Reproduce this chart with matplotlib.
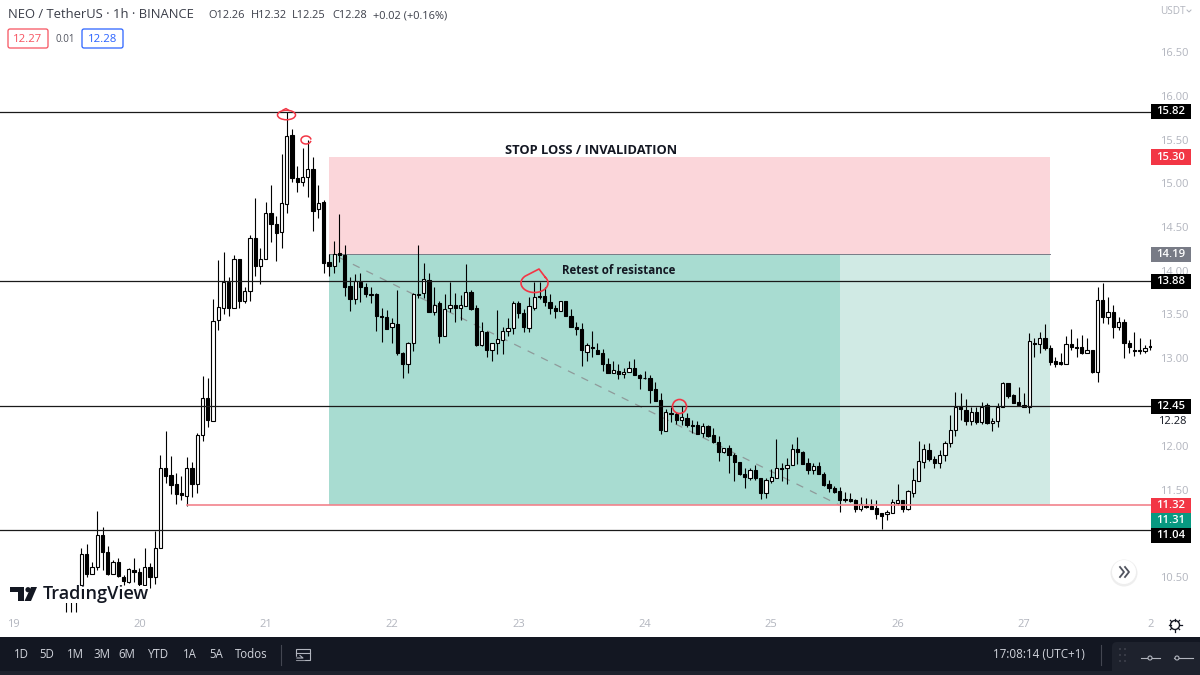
import numpy as np
import matplotlib
matplotlib.use("Agg")
import matplotlib.pyplot as plt
from matplotlib.patches import Rectangle, Circle, Ellipse, FancyBboxPatch, Polygon

plt.rcParams['font.family'] = ['Open Sans', 'DejaVu Sans']

# -----------------------------
# DATOS
# -----------------------------
first_hour = 10

highs = [10.35, 10.36, 10.38,
    10.83, 10.88, 10.67, 11.25, 11.07, 10.86, 10.70, 10.72, 10.52, 10.60,
    10.72, 10.60, 10.83, 10.66, 11.03, 11.90, 12.17, 11.88, 11.69, 11.66,
    11.87, 11.81, 12.15, 12.80, 12.78, 13.68, 14.12, 14.21, 13.93, 14.18,
    14.13, 13.82, 14.41, 14.83, 14.26, 14.79, 14.98, 14.63, 15.34, 15.81,
    15.62, 15.20, 15.40, 15.49, 15.30, 14.98, 14.81, 14.19, 14.34, 14.65,
    14.29, 13.93, 13.96, 13.97, 13.86, 13.82, 13.75, 13.58, 13.55, 13.46,
    13.78, 13.07, 13.19, 13.75, 14.29, 14.09, 13.97, 13.82, 13.65, 13.73,
    13.87, 13.75, 13.72, 14.08, 13.78, 13.61, 13.42, 13.31, 13.18, 13.55,
    13.36, 13.46, 13.66, 13.65, 13.56, 13.70, 13.87, 13.87, 13.81, 13.74,
    13.61, 13.66, 13.66, 13.56, 13.41, 13.40, 13.17, 13.31, 13.18, 13.11,
    13.00, 12.97, 12.94, 12.89, 12.97, 12.99, 12.82, 12.86, 12.81, 12.73,
    12.60, 12.42, 12.44, 12.39, 12.46, 12.37, 12.29, 12.28, 12.26, 12.24,
    12.20, 12.11, 11.98, 12.01, 11.92, 11.81, 11.75, 11.75, 11.78, 11.63,
    11.63, 11.73, 12.08, 11.80, 11.86, 12.02, 12.10, 11.94, 11.86, 11.80,
    11.82, 11.70, 11.61, 11.54, 11.53, 11.47, 11.46, 11.39, 11.41, 11.40,
    11.39, 11.38, 11.23, 11.27, 11.39, 11.56, 11.38, 11.49, 11.75, 12.06,
    12.02, 12.03, 11.88, 11.95, 12.06, 12.35, 12.61, 12.60, 12.54, 12.44,
    12.44, 12.50, 12.49, 12.32, 12.49, 12.73, 12.72, 12.59, 12.67, 12.60,
    13.29, 13.23, 13.30, 13.39, 13.15, 13.01, 13.06, 13.25, 13.34, 13.23,
    13.27, 13.23, 13.10, 13.81, 13.86, 13.70, 13.61, 13.47, 13.45, 13.21,
    13.30, 13.23, 13.15, 13.22]

lows = [10.10, 10.10, 10.10,
    10.41, 10.50, 10.53, 10.58, 10.58, 10.52, 10.53, 10.50, 10.41, 10.43,
    10.44, 10.36, 10.35, 10.37, 10.42, 10.83, 11.57, 11.45, 11.34, 11.38,
    11.31, 11.41, 11.46, 12.05, 12.21, 12.28, 13.32, 13.51, 13.48, 13.58,
    13.57, 13.63, 13.66, 13.94, 13.85, 14.13, 14.33, 14.11, 14.26, 14.66,
    15.01, 14.90, 14.97, 14.84, 14.46, 14.60, 13.98, 13.94, 13.98, 14.10,
    13.71, 13.54, 13.62, 13.64, 13.70, 13.63, 13.31, 13.19, 13.33, 13.17,
    13.04, 12.77, 12.83, 13.08, 13.69, 13.69, 13.53, 13.49, 13.17, 13.26,
    13.53, 13.41, 13.44, 13.60, 13.55, 13.14, 13.14, 13.02, 12.97, 13.05,
    13.05, 13.25, 13.28, 13.46, 13.30, 13.30, 13.55, 13.68, 13.60, 13.51,
    13.46, 13.54, 13.48, 13.36, 13.27, 12.91, 12.97, 13.01, 13.05, 12.85,
    12.83, 12.83, 12.76, 12.78, 12.84, 12.81, 12.65, 12.76, 12.49, 12.51,
    12.13, 12.17, 12.27, 12.25, 12.24, 12.21, 12.15, 12.14, 12.10, 12.10,
    12.03, 11.83, 11.92, 11.69, 11.60, 11.67, 11.52, 11.61, 11.61, 11.39,
    11.40, 11.57, 11.63, 11.60, 11.56, 11.78, 11.79, 11.79, 11.68, 11.68,
    11.68, 11.54, 11.47, 11.46, 11.24, 11.36, 11.36, 11.24, 11.25, 11.29,
    11.28, 11.16, 11.05, 11.15, 11.23, 11.32, 11.24, 11.27, 11.41, 11.60,
    11.75, 11.83, 11.75, 11.75, 11.83, 11.99, 12.11, 12.29, 12.24, 12.24,
    12.25, 12.25, 12.25, 12.17, 12.21, 12.44, 12.55, 12.49, 12.45, 12.44,
    12.37, 13.01, 13.06, 13.09, 12.92, 12.90, 12.92, 12.93, 13.10, 13.01,
    13.05, 13.06, 12.83, 12.73, 13.40, 13.39, 13.23, 13.32, 13.00, 13.06,
    13.03, 13.05, 13.06, 13.10]

opens = [10.28, 10.30, 10.26,
    10.41, 10.76, 10.54, 10.61, 10.98, 10.79, 10.54, 10.67, 10.50, 10.44,
    10.58, 10.56, 10.41, 10.62, 10.50, 10.83, 11.75, 11.67, 11.56, 11.46,
    11.43, 11.75, 11.56, 12.12, 12.55, 12.28, 13.44, 13.57, 13.87, 13.58,
    14.13, 13.66, 13.77, 14.37, 14.05, 14.13, 14.66, 14.54, 14.44, 14.76,
    15.55, 15.06, 15.01, 15.07, 15.16, 14.71, 14.79, 14.10, 14.05, 14.20,
    14.18, 13.83, 13.68, 13.87, 13.81, 13.74, 13.73, 13.48, 13.47, 13.36,
    13.39, 13.06, 12.94, 13.17, 13.72, 13.75, 13.89, 13.53, 13.63, 13.26,
    13.57, 13.61, 13.58, 13.60, 13.76, 13.57, 13.15, 13.30, 13.09, 13.17,
    13.21, 13.31, 13.35, 13.63, 13.52, 13.35, 13.58, 13.71, 13.71, 13.64,
    13.57, 13.54, 13.65, 13.48, 13.36, 13.33, 13.07, 13.13, 13.10, 13.06,
    12.94, 12.83, 12.86, 12.82, 12.84, 12.89, 12.81, 12.78, 12.77, 12.65,
    12.52, 12.17, 12.37, 12.36, 12.29, 12.32, 12.24, 12.24, 12.15, 12.23,
    12.12, 12.04, 11.93, 11.97, 11.90, 11.81, 11.68, 11.63, 11.72, 11.63,
    11.46, 11.60, 11.63, 11.75, 11.75, 11.78, 11.96, 11.93, 11.80, 11.72,
    11.77, 11.68, 11.56, 11.52, 11.48, 11.39, 11.39, 11.38, 11.28, 11.31,
    11.31, 11.29, 11.23, 11.22, 11.23, 11.35, 11.38, 11.28, 11.46, 11.60,
    11.82, 11.95, 11.85, 11.80, 11.90, 12.03, 12.18, 12.44, 12.41, 12.28,
    12.39, 12.27, 12.47, 12.26, 12.28, 12.44, 12.72, 12.58, 12.50, 12.47,
    12.44, 13.17, 13.16, 13.23, 13.12, 12.97, 12.96, 12.94, 13.16, 13.13,
    13.13, 13.06, 13.10, 12.84, 13.67, 13.47, 13.53, 13.36, 13.41, 13.18,
    13.10, 13.08, 13.08, 13.13]

closes = [10.24, 10.24, 10.32,
    10.76, 10.53, 10.61, 10.98, 10.79, 10.54, 10.67, 10.51, 10.45, 10.59,
    10.56, 10.42, 10.61, 10.50, 10.83, 11.75, 11.66, 11.55, 11.45, 11.44,
    11.75, 11.56, 12.12, 12.55, 12.29, 13.42, 13.58, 13.87, 13.58, 14.13,
    13.66, 13.77, 14.37, 14.05, 14.14, 14.66, 14.53, 14.43, 14.77, 15.54,
    15.06, 15.01, 15.07, 15.16, 14.68, 14.77, 14.09, 14.06, 14.19, 14.18,
    13.82, 13.68, 13.88, 13.81, 13.73, 13.72, 13.48, 13.47, 13.33, 13.40,
    13.06, 12.94, 13.18, 13.73, 13.74, 13.90, 13.53, 13.61, 13.25, 13.56,
    13.61, 13.57, 13.61, 13.76, 13.56, 13.15, 13.31, 13.09, 13.17, 13.22,
    13.31, 13.35, 13.63, 13.52, 13.36, 13.60, 13.70, 13.70, 13.64, 13.57,
    13.54, 13.65, 13.48, 13.36, 13.33, 13.09, 13.15, 13.12, 13.05, 12.94,
    12.83, 12.87, 12.82, 12.84, 12.89, 12.81, 12.78, 12.77, 12.64, 12.51,
    12.18, 12.39, 12.36, 12.30, 12.33, 12.24, 12.23, 12.14, 12.23, 12.11,
    12.04, 11.93, 11.97, 11.90, 11.81, 11.68, 11.64, 11.72, 11.63, 11.46,
    11.61, 11.64, 11.75, 11.74, 11.78, 11.96, 11.93, 11.79, 11.72, 11.77,
    11.68, 11.55, 11.52, 11.47, 11.38, 11.38, 11.37, 11.28, 11.33, 11.30,
    11.28, 11.22, 11.20, 11.24, 11.36, 11.38, 11.28, 11.48, 11.61, 11.82,
    11.96, 11.85, 11.80, 11.90, 12.03, 12.18, 12.44, 12.42, 12.28, 12.39,
    12.27, 12.44, 12.26, 12.28, 12.44, 12.72, 12.57, 12.49, 12.47, 12.44,
    13.20, 13.16, 13.23, 13.12, 12.96, 12.94, 12.94, 13.16, 13.13, 13.12,
    13.06, 13.09, 12.84, 13.67, 13.47, 13.53, 13.36, 13.41, 13.18, 13.13,
    13.08, 13.09, 13.12, 13.14]

# 12.50 y 11.00 quedan tapados por las etiquetas de 12.45 y 11.04
price_ticks = [16.5, 16.0, 15.5, 15.0, 14.5, 14.0, 13.5, 13.0, 12.0, 11.5, 10.5]
day_ticks = [0, 24, 48, 72, 96, 120, 144, 168, 192, 216]
day_labels = ["19", "20", "21", "22", "23", "24", "25", "26", "27", "2"]

levels = [15.82, 13.88, 12.45, 11.04]
support = 11.32
support_start = 33

pos_start, pos_mid, pos_end = 60, 157, 197
stop_price, entry_price, target_price = 15.30, 14.19, 11.32
trend_hours = [62, 157]
trend_prices = [14.15, 11.32]

tag_prices = [15.82, 15.30, 14.19, 13.88, 12.45, 11.32, 11.31, 11.04]
tag_colors = ["#000000", "#f23645", "#787b86", "#000000", "#000000", "#f23645", "#089981", "#000000"]
tag_shift = [0, 0, 0, 0, 0, 0, 14, 6]
last_price = 12.28

ranges = ["1D", "5D", "1M", "3M", "6M", "YTD", "1A", "5A", "Todos"]
ranges_x = [21, 47, 75, 102, 127, 159, 190, 216, 251]

# -----------------------------
# EJES
# -----------------------------
fig = plt.figure(figsize=(12, 6.75), dpi=100, facecolor="white")
ax = fig.add_axes([0, 60 / 675, 1152 / 1200, 615 / 675])
ax.set_xlim(-13 / 5.265, (1152 - 13) / 5.265)
ax.set_ylim((1495.75 - 615) / 87.5, 1495.75 / 87.5)
for s in ax.spines.values():
    s.set_visible(False)

ax.yaxis.tick_right()
ax.set_yticks(price_ticks)
ax.set_yticklabels(["%.2f" % p for p in price_ticks], fontsize=8, color="#b2b5be")
ax.tick_params(axis="y", length=0, pad=5.5)
ax.set_xticks(day_ticks)
ax.set_xticklabels(day_labels, fontsize=8, color="#b2b5be")
ax.tick_params(axis="x", length=0, pad=3)
ax.get_xticklabels()[-1].set_x(215.6)

# -----------------------------
# POSICION CORTA
# -----------------------------
ax.add_patch(Rectangle((pos_start, entry_price), pos_end - pos_start, stop_price - entry_price,
                       fc="#fbd6da", ec="none", zorder=1))
ax.add_patch(Rectangle((pos_start, target_price), pos_mid - pos_start, entry_price - target_price,
                       fc="#a8dcd1", ec="none", zorder=1))
ax.add_patch(Rectangle((pos_mid, target_price), pos_end - pos_mid, entry_price - target_price,
                       fc="#d0eae4", ec="none", zorder=1))
ax.plot([pos_start, pos_end], [entry_price, entry_price], color="#787b86", lw=0.7, zorder=2)
ax.plot(trend_hours, trend_prices, color="#8f9a9a", lw=0.9, ls=(0, (6, 6)), zorder=2)

# -----------------------------
# VELAS
# -----------------------------
hours = np.arange(first_hour, first_hour + len(highs))
o = np.array(opens)
c = np.array(closes)
body_low = np.minimum(o, c)
body_h = np.abs(c - o)
face = ["white" if cc >= oo else "black" for oo, cc in zip(o, c)]

ax.vlines(hours, lows, highs, color="black", lw=0.8, zorder=3)
ax.bar(hours, body_h, bottom=body_low, width=0.62, color=face, edgecolor="black", linewidth=0.8, zorder=4)

# -----------------------------
# NIVELES
# -----------------------------
for lv in levels:
    ax.axhline(lv, color="#1a1a1a", lw=0.9, zorder=5)
ax.plot([support_start, ax.get_xlim()[1]], [support, support], color="#f2838c", lw=1.2, zorder=5)

# etiquetas del eje de precios
ty = ax.get_yaxis_transform()
ax.text(1172 / 1152, last_price, "%.2f" % last_price, transform=ty, ha="center", va="center",
        fontsize=8, color="#131722", zorder=9)
for p, col, sh in zip(tag_prices, tag_colors, tag_shift):
    yc = p - sh / 87.5
    ax.add_patch(Rectangle((1151 / 1152, yc - 0.086), 40 / 1152, 0.172, transform=ty, fc=col, ec="none",
                           clip_on=False, zorder=10))
    ax.text(1171 / 1152, yc, "%.2f" % p, transform=ty, ha="center", va="center", fontsize=8.1,
            color="white", fontweight="semibold", zorder=11, clip_on=False)

# -----------------------------
# CAPA DE INTERFAZ (pixeles)
# -----------------------------
ov = fig.add_axes([0, 0, 1, 1], facecolor="none")
ov.set_xlim(0, 1200)
ov.set_ylim(675, 0)
ov.axis("off")

# cabecera
ov.text(8, 15, "NEO / TetherUS · 1h · BINANCE", fontsize=9.4, color="#3b3e49", va="center")
for xt, t in zip([208, 251, 292, 332, 373],
                 ["O12.26", "H12.32", "L12.25", "C12.28", "+0.02 (+0.16%)"]):
    ov.text(xt, 15.5, t, fontsize=7.9, color="#3b3e49", va="center")
ov.add_patch(FancyBboxPatch((8, 29), 40, 19, boxstyle="round,pad=0,rounding_size=2", fc="white", ec="#f7525f", lw=0.9))
ov.text(28, 39, "12.27", fontsize=8.2, color="#f7525f", ha="center", va="center")
ov.text(65, 39, "0.01", fontsize=7, color="#50535e", ha="center", va="center")
ov.add_patch(FancyBboxPatch((82, 29), 41, 19, boxstyle="round,pad=0,rounding_size=2", fc="white", ec="#2962ff", lw=0.9))
ov.text(102.5, 39, "12.28", fontsize=8.2, color="#2962ff", ha="center", va="center")
ov.text(1173, 11, "USDT", fontsize=7.2, color="#b2b5be", ha="center", va="center")
ov.plot([1187, 1189, 1191], [10, 12, 10], color="#b2b5be", lw=0.7)

# textos dibujados
ov.text(591.5, 150, "STOP LOSS / INVALIDATION", fontsize=9.3, fontweight="bold", color="#131722",
        ha="center", va="center")
ov.text(619, 271, "Retest of resistance", fontsize=8.3, fontweight="bold", color="#131722",
        ha="center", va="center")

# marcas a mano en rojo
red = "#f23645"
ov.add_patch(Ellipse((286.5, 115), 18, 9.5, fc="none", ec=red, lw=1.1))
ov.plot([283, 286, 289], [110, 108.5, 110.5], color=red, lw=1)
tt = np.linspace(0.4, 6.0, 30)
ov.plot(306 + 5 * np.cos(tt), 140 + 4 * np.sin(tt), color=red, lw=1.1)
# la gota de 23: elipse abierta arriba con la punta hacia (539, 269)
tt = np.linspace(-0.65, 3.95, 60)
drop_x = list(534.5 + 13.5 * np.cos(tt)) + [539, 534.5 + 13.5 * np.cos(-0.65)]
drop_y = list(283 + 9.5 * np.sin(tt)) + [269, 283 + 9.5 * np.sin(-0.65)]
ov.plot(drop_x, drop_y, color=red, lw=1.2)
ov.add_patch(Circle((679.5, 406.5), 7, fc="none", ec=red, lw=1.2))

# logo
ov.add_patch(Rectangle((8, 586), 142, 17, fc="white", ec="none"))
ov.add_patch(Polygon([(10, 587), (24, 587), (24, 601), (18, 601), (18, 592), (10, 592)], fc="#131722", ec="none"))
ov.add_patch(Circle((28, 589.7), 2.6, fc="#131722", ec="none"))
ov.add_patch(Polygon([(31, 587), (37, 587), (31, 601), (24.5, 601)], fc="#131722", ec="none"))
ov.text(43, 594, "TradingView", fontsize=13, fontweight="semibold", color="#131722", va="center")

# boton de chevrones
ov.add_patch(Circle((1124, 573), 13.5, fc="#eeeeee", ec="none"))
ov.add_patch(Circle((1124, 572), 12, fc="white", ec="none"))
ov.plot([1120, 1124, 1120], [567, 572, 577], color="#50535e", lw=1.3)
ov.plot([1125, 1129, 1125], [567, 572, 577], color="#50535e", lw=1.3)

# engranaje
ov.add_patch(Circle((1175, 625), 4.5, fc="none", ec="#131722", lw=1))
for a in np.linspace(0, 2 * np.pi, 8, endpoint=False):
    ov.plot([1175 + 4.5 * np.cos(a), 1175 + 6.5 * np.cos(a)], [625 + 4.5 * np.sin(a), 625 + 6.5 * np.sin(a)],
            color="#131722", lw=0.9)

# barra inferior
ov.add_patch(Rectangle((0, 637), 1200, 38, fc="#131722", ec="none"))
ov.add_patch(Rectangle((0, 671), 1200, 4, fc="#1e222d", ec="none"))
for xt, t in zip(ranges_x, ranges):
    ov.text(xt, 655, t, fontsize=8.3, color="#d1d4dc", ha="center", va="center", fontweight="medium")
ov.plot([281, 281], [645, 665], color="#434651", lw=0.8)
ov.add_patch(Rectangle((296, 649), 14, 11, fc="none", ec="#b2b5be", lw=0.8))
ov.plot([296, 310], [652.5, 652.5], color="#b2b5be", lw=0.8)
ov.plot([295, 303], [658, 658], color="#131722", lw=2.5)
ov.plot([297, 303, 300], [658, 658, 655.5], color="#b2b5be", lw=0.8)
ov.text(1039, 655, "17:08:14 (UTC+1)", fontsize=8.4, color="#d1d4dc", ha="center", va="center")
ov.plot([1101, 1101], [645, 665], color="#434651", lw=0.8)
ov.add_patch(FancyBboxPatch((1112, 642), 92, 40, boxstyle="round,pad=0,rounding_size=5", fc="#1e222d", ec="none"))
for dx in [1120, 1125]:
    for dy in [649, 655, 661]:
        ov.add_patch(Circle((dx, dy), 0.8, fc="#50535e", ec="none"))
for cx, l, r in [(1150, 1141, 1160), (1177, 1174, 1193)]:
    ov.plot([l, r], [658, 658], color="#b2b5be", lw=0.8)
    ov.add_patch(Circle((cx, 658), 2, fc="#1e222d", ec="#b2b5be", lw=0.8, zorder=5))

fig.savefig("out.png", dpi=100)
